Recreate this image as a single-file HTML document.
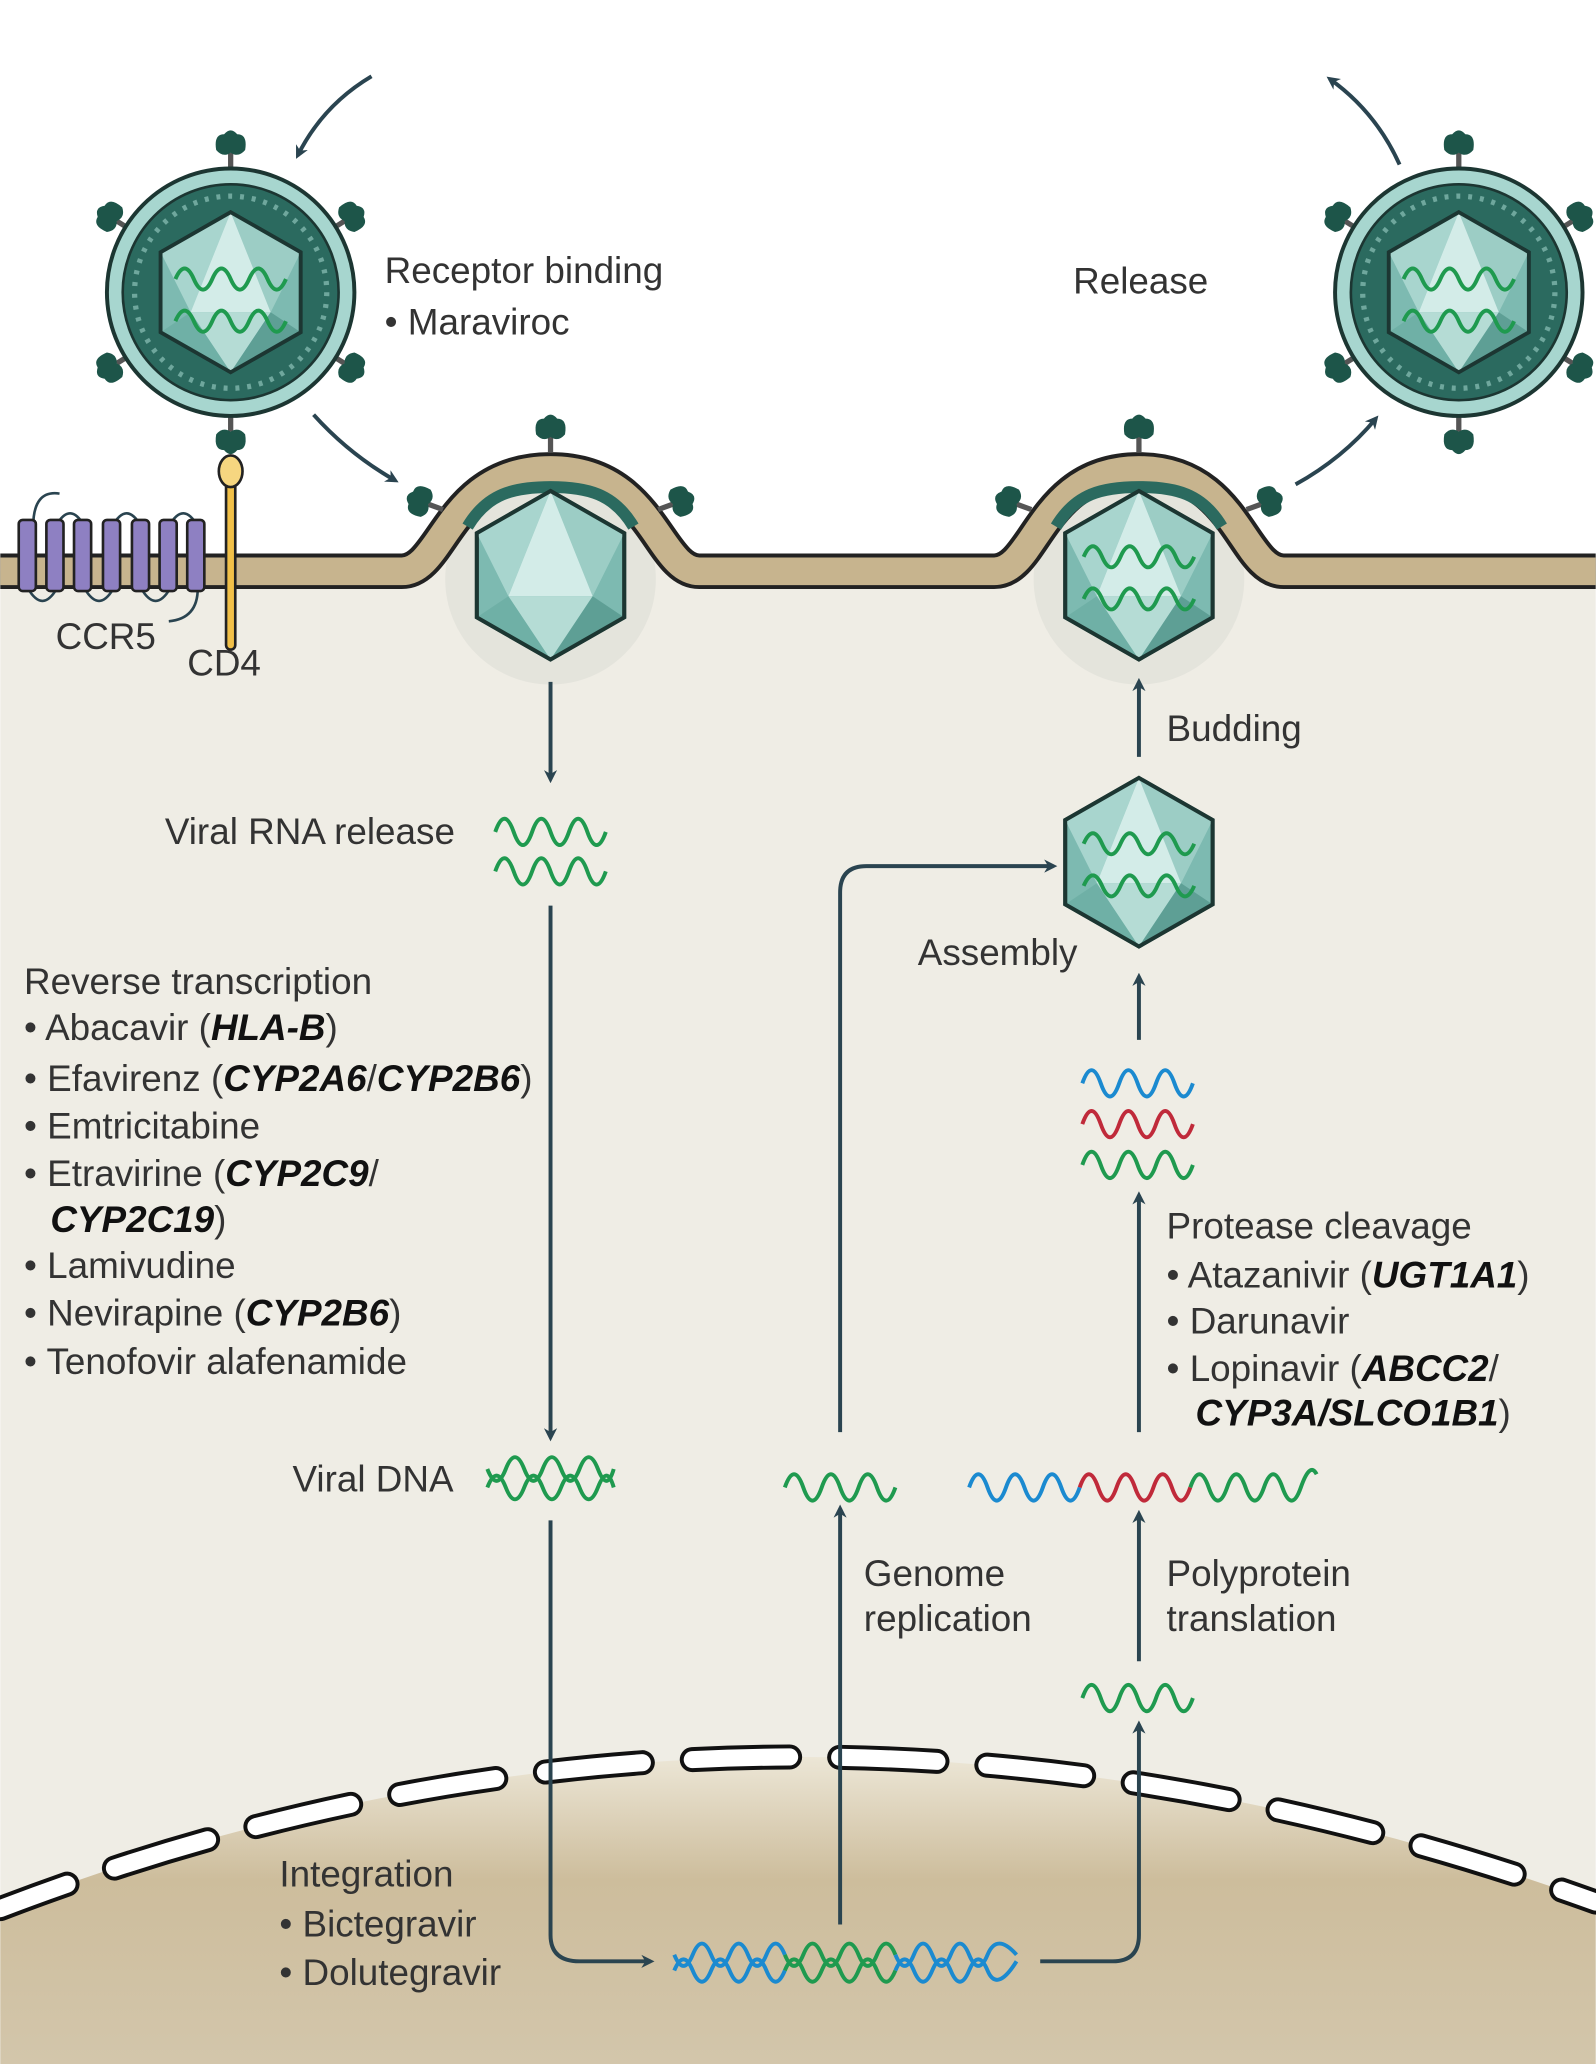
<!DOCTYPE html>
<html><head><meta charset="utf-8"><style>
html,body{margin:0;padding:0;background:#fff}
svg{display:block}
text{font-family:"Liberation Sans",sans-serif;fill:#333;font-size:28px}
.b{font-weight:bold;font-style:italic;fill:#111}
</style></head><body>
<svg width="1596" height="2064" viewBox="0 0 1212 1568" xmlns="http://www.w3.org/2000/svg">
<defs>
<linearGradient id="nuc" x1="0" y1="0" x2="0" y2="1"><stop offset="0" stop-color="#ece6d6"/><stop offset="0.4" stop-color="#cdbd9c"/><stop offset="1" stop-color="#d3c6ab"/></linearGradient>
<marker id="ah" markerWidth="10" markerHeight="10" refX="7" refY="5" orient="auto" markerUnits="userSpaceOnUse"><path d="M0,0 L10,5 L0,10 L3,5 Z" fill="#2a4450"/></marker>
<g id="cap">
<polygon points="0,-64 56,-32 56,32 0,64 -56,32 -56,-32" fill="#7dbab1" stroke="#1c3632" stroke-width="3"/>
<polygon points="0,-64 -56,-32 -32,16" fill="#a8d5ce"/>
<polygon points="0,-64 56,-32 32,16" fill="#9ccdc5"/>
<polygon points="0,-64 -32,16 32,16" fill="#d3ece8"/>
<polygon points="-32,16 32,16 0,64" fill="#b5dcd5"/>
<polygon points="-56,32 -32,16 0,64" fill="#6fb0a6"/>
<polygon points="56,32 32,16 0,64" fill="#5e9f95"/>
<polygon points="0,-64 56,-32 56,32 0,64 -56,32 -56,-32" fill="none" stroke="#1c3632" stroke-width="3"/>
</g>
<g id="spike"><rect x="-2" y="0" width="4" height="12" fill="#555"/><path d="M-11,-2 Q-13,-14 -5,-14 Q0,-20 5,-14 Q13,-14 11,-2 Q6,4 0,0 Q-6,4 -11,-2Z" fill="#1d5549"/></g>
<g id="virion">
<use href="#spike" transform="translate(0,-106)"/>
<use href="#spike" transform="translate(0,106) rotate(180)"/>
<use href="#spike" transform="rotate(-58) translate(0,-102)"/>
<use href="#spike" transform="rotate(58) translate(0,-102)"/>
<use href="#spike" transform="rotate(-122) translate(0,-102)"/>
<use href="#spike" transform="rotate(122) translate(0,-102)"/>
<circle r="94" fill="#a7d6cf" stroke="#1c3632" stroke-width="3"/>
<circle r="82" fill="#2b6a5f" stroke="#1c3632" stroke-width="2"/>
<circle r="73" fill="none" stroke="#6fa79d" stroke-width="4" stroke-dasharray="3 6"/>
<g transform="scale(0.95)"><use href="#cap"/></g>
<path d="M-42,-10 Q-35,-26 -28,-10 T-14,-10 T0,-10 T14,-10 T28,-10 T42,-10" fill="none" stroke="#1f9a4f" stroke-width="3"/>
<path d="M-42,22 Q-35,6 -28,22 T-14,22 T0,22 T14,22 T28,22 T42,22" fill="none" stroke="#1f9a4f" stroke-width="3"/>
</g>
</defs>
<rect width="1212" height="1568" fill="#fff"/>
<path d="M0,434 L305,434 C337,434 340,357 418,357 C496,357 499,434 531,434 L755,434 C787,434 790,357 865,357 C940,357 943,434 975,434 L1212,434 L1212,1568 L0,1568Z" fill="#efede5"/>
<path d="M0,1450 Q594,1222 1212,1445 L1212,1568 L0,1568Z" fill="url(#nuc)"/>
<path d="M0,1450 Q594,1222 1212,1445" fill="none" stroke="#111" stroke-width="19" stroke-dasharray="74 38" stroke-linecap="round" stroke-dashoffset="20"/>
<path d="M0,1450 Q594,1222 1212,1445" fill="none" stroke="#fff" stroke-width="13" stroke-dasharray="74 38" stroke-linecap="round" stroke-dashoffset="20"/>
<circle cx="418" cy="440" r="80" fill="#dfe0d8" opacity="0.7"/>
<circle cx="865" cy="440" r="80" fill="#dfe0d8" opacity="0.7"/>
<path d="M0,434 L305,434 C337,434 340,357 418,357 C496,357 499,434 531,434 L755,434 C787,434 790,357 865,357 C940,357 943,434 975,434 L1212,434" fill="none" stroke="#222" stroke-width="27"/>
<path d="M0,434 L305,434 C337,434 340,357 418,357 C496,357 499,434 531,434 L755,434 C787,434 790,357 865,357 C940,357 943,434 975,434 L1212,434" fill="none" stroke="#c7b48e" stroke-width="21"/>
<path d="M355,400 C370,375 390,370 418,370 C446,370 466,375 481,400" fill="none" stroke="#2b6a5f" stroke-width="9"/>
<path d="M802,400 C817,375 837,370 865,370 C893,370 913,375 928,400" fill="none" stroke="#2b6a5f" stroke-width="9"/>
<use href="#spike" transform="translate(418,332)"/>
<use href="#spike" transform="translate(325,383) rotate(-70)"/>
<use href="#spike" transform="translate(511,383) rotate(70)"/>
<use href="#spike" transform="translate(865,332)"/>
<use href="#spike" transform="translate(772,383) rotate(-70)"/>
<use href="#spike" transform="translate(958,383) rotate(70)"/>
<use href="#cap" transform="translate(418,437)"/>
<g transform="translate(865,437)"><use href="#cap"/>
<path d="M-42,-14 Q-35,-30 -28,-14 T-14,-14 T0,-14 T14,-14 T28,-14 T42,-14" fill="none" stroke="#1f9a4f" stroke-width="3"/>
<path d="M-42,18 Q-35,2 -28,18 T-14,18 T0,18 T14,18 T28,18 T42,18" fill="none" stroke="#1f9a4f" stroke-width="3"/></g>
<g stroke="#2a4450" stroke-width="2" fill="none">
<path d="M25,400 Q25,372 45,375"/><path d="M42,400 Q53,380 64,400"/><path d="M85,400 Q96,380 107,400"/><path d="M128,400 Q139,380 150,400"/>
<path d="M21,447 Q32,466 43,447"/><path d="M64,447 Q75,466 86,447"/><path d="M107,447 Q118,466 129,447"/><path d="M150,447 Q150,470 128,472"/>
</g>
<g fill="#8e80c2" stroke="#222" stroke-width="2">
<rect x="14" y="395" width="13" height="54" rx="3"/><rect x="35" y="395" width="13" height="54" rx="3"/><rect x="56" y="395" width="13" height="54" rx="3"/><rect x="78" y="395" width="13" height="54" rx="3"/><rect x="100" y="395" width="13" height="54" rx="3"/><rect x="121" y="395" width="13" height="54" rx="3"/><rect x="142" y="395" width="13" height="54" rx="3"/>
</g>
<path d="M175,362 L175,490" stroke="#222" stroke-width="9" stroke-linecap="round"/>
<path d="M175,362 L175,490" stroke="#f1c048" stroke-width="5" stroke-linecap="round"/>
<ellipse cx="175" cy="358" rx="9" ry="12" fill="#f6d680" stroke="#222" stroke-width="2"/>
<use href="#virion" transform="translate(175,222)"/>
<use href="#virion" transform="translate(1108,222)"/>
<g fill="none" stroke="#2a4450" stroke-width="3" marker-end="url(#ah)">
<path d="M282,58 Q245,80 226,118"/>
<path d="M238,315 Q265,345 300,365"/>
<path d="M1063,125 Q1045,85 1010,60"/>
<path d="M984,368 Q1020,348 1045,318"/>
<path d="M418,518 L418,592"/>
<path d="M418,688 L418,1092"/>
<path d="M418,1155 L418,1470 Q418,1490 440,1490 L494,1490"/>
<path d="M790,1490 L845,1490 Q865,1490 865,1470 L865,1310"/>
<path d="M865,1262 L865,1150"/>
<path d="M638,1462 L638,1146"/>
<path d="M638,1088 L638,678 Q638,658 658,658 L800,658"/>
<path d="M865,1088 L865,908"/>
<path d="M865,790 L865,742"/>
<path d="M865,575 L865,518"/>
</g>
<g transform="translate(865,655)"><use href="#cap"/>
<path d="M-42,-14 Q-35,-30 -28,-14 T-14,-14 T0,-14 T14,-14 T28,-14 T42,-14" fill="none" stroke="#1f9a4f" stroke-width="3"/>
<path d="M-42,18 Q-35,2 -28,18 T-14,18 T0,18 T14,18 T28,18 T42,18" fill="none" stroke="#1f9a4f" stroke-width="3"/></g>
<g fill="none" stroke-width="3">
<path d="M376,632 Q383,612 390,632 T404,632 T418,632 T432,632 T446,632 T460,632" stroke="#1f9a4f"/>
<path d="M376,662 Q383,642 390,662 T404,662 T418,662 T432,662 T446,662 T460,662" stroke="#1f9a4f"/>
<path d="M370,1130 Q377,1112 384,1130 T398,1130 T412,1130 T426,1130 T440,1130 T454,1130 T466,1130" stroke="#1f9a4f"/>
<path d="M370,1116 Q377,1134 384,1116 T398,1116 T412,1116 T426,1116 T440,1116 T454,1116 T466,1116" stroke="#1f9a4f"/>
<path d="M596,1130 Q603,1110 610,1130 T624,1130 T638,1130 T652,1130 T666,1130 T680,1130" stroke="#1f9a4f"/>
<path d="M736,1130 Q743,1110 750,1130 T764,1130 T778,1130 T792,1130 T806,1130 T820,1130" stroke="#1b8ad0"/>
<path d="M820,1130 Q827,1110 834,1130 T848,1130 T862,1130 T876,1130 T890,1130 T904,1130" stroke="#c02a3a"/>
<path d="M904,1130 Q911,1110 918,1130 T932,1130 T946,1130 T960,1130 T974,1130 T988,1130 T1000,1120" stroke="#1f9a4f"/>
<path d="M822,1290 Q829,1270 836,1290 T850,1290 T864,1290 T878,1290 T892,1290 T906,1290" stroke="#1f9a4f"/>
<path d="M822,823 Q829,803 836,823 T850,823 T864,823 T878,823 T892,823 T906,823" stroke="#1b8ad0"/>
<path d="M822,854 Q829,834 836,854 T850,854 T864,854 T878,854 T892,854 T906,854" stroke="#c02a3a"/>
<path d="M822,885 Q829,865 836,885 T850,885 T864,885 T878,885 T892,885 T906,885" stroke="#1f9a4f"/>
<path d="M512,1497 Q519,1480 526,1497 T540,1497 T554,1497 T568,1497 T582,1497 T596,1497" stroke="#1b8ad0"/>
<path d="M596,1497 Q603,1480 610,1497 T624,1497 T638,1497 T652,1497 T666,1497 T680,1497" stroke="#1f9a4f"/>
<path d="M680,1497 Q687,1480 694,1497 T708,1497 T722,1497 T736,1497 T750,1497 T772,1490" stroke="#1b8ad0"/>
<path d="M512,1485 Q519,1502 526,1485 T540,1485 T554,1485 T568,1485 T582,1485 T596,1485" stroke="#1b8ad0"/>
<path d="M596,1485 Q603,1502 610,1485 T624,1485 T638,1485 T652,1485 T666,1485 T680,1485" stroke="#1f9a4f"/>
<path d="M680,1485 Q687,1502 694,1485 T708,1485 T722,1485 T736,1485 T750,1485 T772,1485" stroke="#1b8ad0"/>
</g>
<text x="292" y="215">Receptor binding</text>
<text x="292" y="254">• Maraviroc</text>
<text x="815" y="223">Release</text>
<text x="42" y="493">CCR5</text>
<text x="142" y="513">CD4</text>
<text x="125" y="641">Viral RNA release</text>
<text x="886" y="563">Budding</text>
<text x="697" y="733">Assembly</text>
<text x="18" y="755">Reverse transcription</text>
<text x="18" y="790">• Abacavir (<tspan class="b">HLA-B</tspan>)</text>
<text x="18" y="829">• Efavirenz (<tspan class="b">CYP2A6</tspan>/<tspan class="b">CYP2B6</tspan>)</text>
<text x="18" y="865">• Emtricitabine</text>
<text x="18" y="901">• Etravirine (<tspan class="b">CYP2C9</tspan>/</text>
<text x="38" y="936" class="b">CYP2C19<tspan style="font-weight:normal;font-style:normal;fill:#333">)</tspan></text>
<text x="18" y="971">• Lamivudine</text>
<text x="18" y="1007">• Nevirapine (<tspan class="b">CYP2B6</tspan>)</text>
<text x="18" y="1044">• Tenofovir alafenamide</text>
<text x="886" y="941">Protease cleavage</text>
<text x="886" y="978">• Atazanivir (<tspan class="b">UGT1A1</tspan>)</text>
<text x="886" y="1013">• Darunavir</text>
<text x="886" y="1049">• Lopinavir (<tspan class="b">ABCC2</tspan>/</text>
<text x="908" y="1083" class="b">CYP3A/SLCO1B1<tspan style="font-weight:normal;font-style:normal;fill:#333">)</tspan></text>
<text x="222" y="1133">Viral DNA</text>
<text x="656" y="1205">Genome</text>
<text x="656" y="1239">replication</text>
<text x="886" y="1205">Polyprotein</text>
<text x="886" y="1239">translation</text>
<text x="212" y="1433">Integration</text>
<text x="212" y="1471">• Bictegravir</text>
<text x="212" y="1508">• Dolutegravir</text>
</svg>
</body></html>
